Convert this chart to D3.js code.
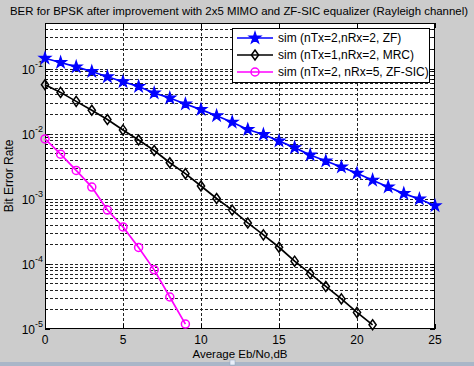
<!DOCTYPE html>
<html><head><meta charset="utf-8">
<script src="https://cdn.jsdelivr.net/npm/d3@7"></script>
<style>body{margin:0;background:#cccccc;overflow:hidden}svg{display:block}</style>
</head><body>
<svg id="c" width="474" height="366"></svg>
<script>
const title = "BER for BPSK after improvement with 2x5 MIMO and ZF-SIC equalizer (Rayleigh channel)";
const xLabel = "Average Eb/No,dB";
const yLabel = "Bit Error Rate";
const xTicks = [0,5,10,15,20,25];
const yDecades = [-5,-4,-3,-2,-1];
const seriesNames = ["sim (nTx=2,nRx=2, ZF)", "sim (nTx=1,nRx=2, MRC)", "sim (nTx=2, nRx=5, ZF-SIC)"];
const ebnoZF = d3.range(0,26);
const berZF = [0.1436,0.1236,0.106,0.09,0.0746,0.0626,0.053,0.042,0.0352,0.0285,0.0234,0.0188,0.015,0.0116,0.0097,0.0077,0.0061,0.0047,0.0038,0.00308,0.00247,0.00193,0.00152,0.0012,0.00099,0.00078];
const ebnoMRC = d3.range(0,22);
const berMRC = [0.0564,0.043,0.0313,0.0229,0.0165,0.0114,0.0080,0.0055,0.00357,0.00243,0.00157,0.00101,0.00067,0.000425,0.000279,0.00018,0.00011,0.000071,0.000045,0.000029,0.000018,0.0000116];
const ebnoSIC = d3.range(0,10);
const berSIC = [0.0083,0.00483,0.00272,0.00151,0.00067,0.00037,0.000179,0.000081,0.000031,0.0000119];

const svg = d3.select("#c");
const L=45,R=435,T=23,B=329;
const x = d3.scaleLinear().domain([0,25]).range([L,R]);
const y = d3.scaleLog().domain([1e-5,0.5]).range([B,T]);
const font = "Liberation Sans, Arial, sans-serif";

svg.append("rect").attr("x",0).attr("y",362).attr("width",474).attr("height",4).attr("fill","#a9b6c8");
svg.append("rect").attr("x",230).attr("y",360).attr("width",5).attr("height",5).attr("fill","#e8eef8").attr("stroke","#8fa2bd").attr("stroke-width",0.5);

svg.append("rect").attr("x",L).attr("y",T).attr("width",R-L).attr("height",B-T).attr("fill","#fff");

// grid
const g = svg.append("g");
const minor = [];
yDecades.forEach(d=>{for(let k=1;k<=9;k++){const v=k*Math.pow(10,d); if(v<=0.5) minor.push(v);}});
g.selectAll(".hy").data(minor.filter(v=>v>1e-5)).join("line")
 .attr("x1",L).attr("x2",R).attr("y1",d=>Math.round(y(d))+0.5).attr("y2",d=>Math.round(y(d))+0.5)
 .attr("stroke","#222").attr("stroke-width",1).attr("stroke-dasharray","3,2");
g.selectAll(".vx").data(xTicks.filter(v=>v>0&&v<25)).join("line")
 .attr("y1",T).attr("y2",B).attr("x1",d=>Math.round(x(d))+0.5).attr("x2",d=>Math.round(x(d))+0.5)
 .attr("stroke","#222").attr("stroke-width",1).attr("stroke-dasharray","3,2");

// ticks
const tk = svg.append("g").attr("stroke","#000").attr("stroke-width",1);
xTicks.forEach(v=>{const px=Math.round(x(v))+0.5;
 tk.append("line").attr("x1",px).attr("x2",px).attr("y1",B).attr("y2",B-5);
 tk.append("line").attr("x1",px).attr("x2",px).attr("y1",T).attr("y2",T+5);});
minor.forEach(v=>{const py=Math.round(y(v))+0.5; const len = (Math.abs(Math.log10(v)-Math.round(Math.log10(v)))<1e-9)?5:3;
 tk.append("line").attr("x1",L).attr("x2",L+len).attr("y1",py).attr("y2",py);
 tk.append("line").attr("x1",R).attr("x2",R-len).attr("y1",py).attr("y2",py);});

svg.append("rect").attr("x",L+0.5).attr("y",T+0.5).attr("width",R-L-1).attr("height",B-T-1).attr("fill","none").attr("stroke","#000");

// tick labels
svg.append("g").selectAll("text").data(xTicks).join("text")
 .attr("x",d=>x(d)).attr("y",344).attr("text-anchor","middle")
 .attr("font-family",font).attr("font-size",12).attr("fill","#000").text(d=>d);
const yl = svg.append("g").selectAll("text").data(yDecades).join("text")
 .attr("x",35).attr("y",d=>y(Math.pow(10,d))+5).attr("text-anchor","end")
 .attr("font-family",font).attr("font-size",12).attr("fill","#000").text("10");
yl.each(function(d){
 d3.select(this.parentNode).append("text").attr("x",35).attr("y",y(Math.pow(10,d))-2)
  .attr("font-family",font).attr("font-size",9).attr("fill","#000").text(d);
});

// title / labels
svg.append("text").attr("x",239).attr("y",15).attr("text-anchor","middle").attr("font-family",font)
 .attr("font-size",11.5).attr("textLength",458).attr("lengthAdjust","spacingAndGlyphs").text(title);
svg.append("text").attr("x",240).attr("y",358).attr("text-anchor","middle").attr("font-family",font).attr("font-size",11.5).text(xLabel);
svg.append("text").attr("transform","translate(13,176) rotate(-90)").attr("text-anchor","middle").attr("font-family",font).attr("font-size",12).text(yLabel);

// series
const line = d3.line().x(d=>x(d[0])).y(d=>y(d[1]));
const star = d3.symbol().type(d3.symbolStar).size(42);
const diam = "M0,-5L3.6,0L0,5L-3.6,0Z";
const series = [
 {xs:ebnoZF, ys:berZF, color:"#0000ff", mk:"star"},
 {xs:ebnoMRC, ys:berMRC, color:"#000000", mk:"diam"},
 {xs:ebnoSIC, ys:berSIC, color:"#ff00ff", mk:"circ"}
];
function marker(sel, mk, color){
 if(mk==="star") sel.append("path").attr("d",star()).attr("fill",color).attr("stroke",color).attr("stroke-width",1.2);
 else if(mk==="diam") sel.append("path").attr("d",diam).attr("fill","none").attr("stroke",color).attr("stroke-width",1.5);
 else sel.append("circle").attr("r",4).attr("fill","none").attr("stroke",color).attr("stroke-width",1.5);
}
const plot = svg.append("g");
series.forEach(s=>{
 const pts = s.xs.map((v,i)=>[v,s.ys[i]]);
 plot.append("path").attr("d",line(pts)).attr("fill","none").attr("stroke",s.color).attr("stroke-width",1.7);
 pts.forEach(p=>{const m=plot.append("g").attr("transform",`translate(${x(p[0])},${y(p[1])})`); marker(m,s.mk,s.color);});
});

// legend
const lg = svg.append("g");
lg.append("rect").attr("x",232.5).attr("y",28.5).attr("width",197).attr("height",54).attr("fill","#fff").attr("stroke","#000");
series.forEach((s,i)=>{
 const yy = 38 + i*17;
 lg.append("line").attr("x1",237).attr("x2",273).attr("y1",yy).attr("y2",yy).attr("stroke",s.color).attr("stroke-width",1.7);
 const m = lg.append("g").attr("transform",`translate(255,${yy})`); marker(m,s.mk,s.color);
 lg.append("text").attr("x",278).attr("y",yy+4).attr("font-family",font).attr("font-size",12).text(seriesNames[i]);
});
</script>
</body></html>
